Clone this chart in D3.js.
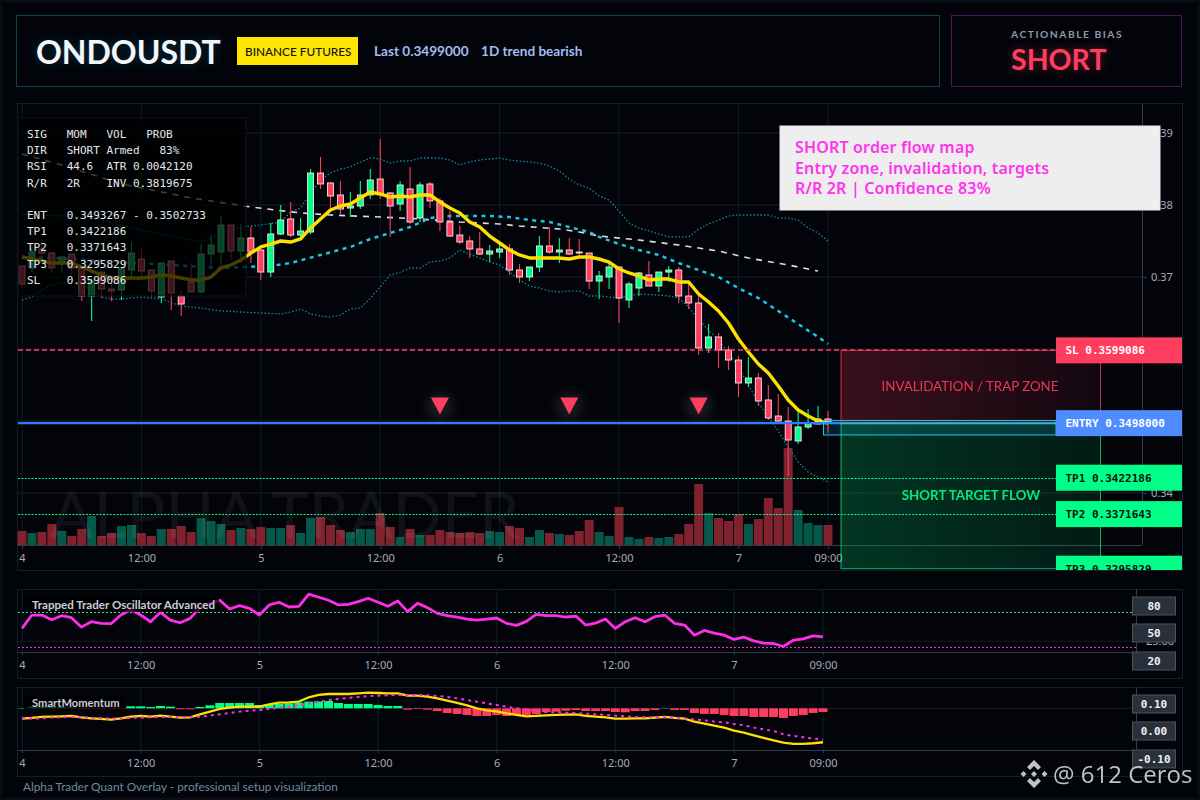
<!DOCTYPE html>
<html><head><meta charset="utf-8">
<style>html,body{margin:0;padding:0;background:#000;overflow:hidden}svg{display:block}</style>
<script src="https://cdn.jsdelivr.net/npm/d3@7/dist/d3.min.js"></script></head>
<body><svg id="c" width="1200" height="800"></svg>
<script>
// ---------- data ----------
const symbol="ONDOUSDT", exchange="BINANCE FUTURES", lastText="Last 0.3499000", trendText="1D trend bearish";
const hours=d3.range(82);
const open=[.37153,.37125,.37389,.37333,.37194,.37319,.37125,.36736,.37069,.36833,.36819,.37097,.3725,.37097,.36722,.37222,.36736,.36931,.36792,.37319,.37347,.37722,.37361,.37542,.37375,.37069,.37597,.37806,.37583,.37625,.38444,.38306,.38139,.37958,.37986,.38139,.38361,.38167,.38014,.38222,.37819,.38292,.38056,.37764,.37583,.375,.37389,.37319,.37347,.37389,.37097,.37,.37139,.37431,.37347,.37375,.37347,.37333,.36944,.37,.37139,.36681,.36847,.37028,.36875,.37069,.37097,.36736,.36639,.36014,.36167,.35986,.35847,.35528,.35597,.35292,.35069,.35,.34722,.34917,.34958,.35028];
const high=[.37153,.37403,.37528,.37347,.37278,.37319,.37139,.36986,.37069,.36986,.37125,.37486,.37389,.37097,.37194,.37222,.36819,.37194,.37458,.37583,.37847,.37722,.37736,.37694,.37375,.3775,.38,.38042,.37819,.385,.38667,.38319,.38333,.38181,.38333,.385,.38917,.38181,.38333,.38528,.38319,.38319,.38097,.37917,.37708,.37569,.37625,.37444,.37472,.37458,.37181,.37139,.37569,.37694,.37542,.37542,.37528,.37333,.37083,.37194,.37139,.36931,.37069,.37222,.37069,.37153,.37139,.36917,.36764,.36347,.36222,.36042,.35903,.35889,.35667,.355,.35375,.35194,.35139,.35167,.35208,.35139];
const low=[.36847,.37069,.37264,.37056,.37056,.37014,.36667,.36389,.36708,.36667,.36681,.37014,.36958,.36722,.36639,.36542,.36458,.36792,.36778,.37139,.37139,.37236,.37194,.37194,.36958,.37,.37583,.37556,.37556,.37597,.38222,.37931,.37875,.37833,.37944,.38083,.38083,.37556,.37917,.37736,.37764,.37958,.37639,.37556,.37458,.37264,.37306,.37208,.37264,.37028,.36917,.36944,.37069,.37319,.37194,.37306,.37292,.36833,.36694,.36833,.36361,.36569,.36736,.36875,.36792,.36931,.36639,.36556,.35917,.35944,.35736,.35708,.35333,.35472,.35208,.35014,.34958,.34236,.34681,.34889,.34958,.34833];
const close=[.36903,.37347,.37333,.37125,.37278,.37125,.36736,.36958,.36833,.36806,.37125,.37333,.37083,.36806,.37194,.36778,.36625,.36792,.37319,.37444,.37722,.37361,.37542,.37347,.37069,.37597,.37792,.37583,.37639,.38444,.38292,.38125,.37944,.37986,.38139,.38347,.38153,.37986,.38278,.37764,.38278,.38056,.37764,.37569,.37486,.37389,.37319,.37361,.37389,.37097,.37,.37139,.37431,.37347,.37375,.37319,.37333,.36944,.37014,.37139,.36708,.36903,.37056,.36875,.37069,.37097,.36736,.36639,.36014,.36167,.35986,.35847,.35528,.35597,.35278,.35042,.35,.34736,.34917,.34958,.35028,.34986];
const volume=[14,12,13,21,14,9,16,29,9,12,19,20,12,9,16,16,19,13,27,24,21,15,17,16,18,17,17,20,12,27,28,20,15,13,16,16,32,18,8,16,10,10,15,13,12,13,12,14,13,19,17,8,15,12,11,10,14,25,13,9,38,8,6,8,7,8,11,21,61,32,27,24,31,21,26,47,37,97,35,22,20,20];
const ema=[.37278,.3725,.37222,.37194,.37194,.37194,.37139,.37083,.37028,.36986,.36986,.36986,.36986,.37,.37028,.37014,.36986,.36958,.36958,.37,.37125,.37167,.37236,.37333,.37417,.37458,.375,.37486,.37528,.37681,.37806,.37931,.37986,.38014,.38097,.38181,.38153,.38111,.38125,.38111,.38139,.38139,.38042,.37958,.37889,.37764,.37694,.37569,.37472,.37375,.37306,.37264,.37264,.37264,.37264,.3725,.37278,.37278,.3725,.37208,.37111,.37056,.37014,.36958,.36972,.36972,.36931,.36931,.36764,.36653,.36528,.36361,.36139,.35958,.35792,.35667,.35486,.35292,.35153,.35069,.35,.34972];
const midHours=[0,5,10,15,20,25,27,30,33,35,37,39,41,43,45,47,49,51,53,55,57,58,60,62,64,66,68,70,72,74,76,78,80,81];
const midValues=[.37278,.3725,.37208,.37167,.37125,.37153,.37194,.37306,.37417,.37528,.37611,.37694,.37819,.37847,.37847,.37847,.37833,.37792,.37764,.37694,.37625,.37556,.37458,.37375,.37306,.37194,.37097,.37,.36847,.36708,.36528,.36347,.36167,.36069];
const slowHours=[0,4,10,17,23,28,31,36,40,44,48,50,54,56,58,62,66,70,73,77,80];
const slowValues=[.38708,.38556,.38292,.38097,.37972,.37889,.37861,.37833,.37806,.37764,.37736,.37708,.37667,.37625,.37569,.37514,.37444,.37361,.37264,.37167,.37083];
const upHours=[0,2,4,6,8,10,12,14,16,18,20,22,24,26,27,28,29,30,31,32,33,34,35,36,37,38,39,40,41,42,43,44,45,46,47,48,49,50,51,52,53,54,55,56,57,58,59,60,61,62,63,64,65,66,67,68,69,70,71,72,73,74,75,76,77,78,79,80,81];
const upValues=[.37875,.37861,.37847,.37833,.37792,.37722,.37653,.37597,.37542,.37486,.37611,.37694,.37722,.37764,.37903,.37958,.38167,.38347,.38444,.385,.38528,.38597,.38653,.38639,.38583,.38611,.38611,.38653,.38653,.38653,.38625,.38556,.38597,.38625,.38639,.38653,.38625,.38611,.38597,.38583,.38542,.38472,.38361,.38278,.38236,.38125,.38069,.37917,.3775,.37681,.37639,.37597,.37556,.37556,.37556,.37667,.37736,.37792,.37847,.37861,.37861,.37861,.37861,.37819,.37819,.37792,.37681,.37611,.375];
const lowHours=[0,1,2,3,4,5,6,7,8,9,10,12,14,16,18,20,22,24,26,27,28,29,30,31,32,33,34,35,36,37,38,39,40,41,42,43,44,45,46,47,48,49,50,51,52,53,54,55,56,57,58,60,62,64,65,66,67,68,70,72,74,76,77,78,79,81];
const lowValues=[.36681,.36722,.36819,.36889,.36917,.36917,.36889,.36806,.36722,.36694,.36694,.36722,.36694,.36597,.36569,.36528,.36514,.365,.36486,.36514,.36556,.36486,.36458,.36444,.36472,.36556,.36569,.36708,.36861,.37028,.37069,.37125,.37125,.37208,.37222,.37264,.37375,.37319,.37264,.37208,.37167,.37069,.36958,.36875,.36847,.36806,.36792,.36806,.36806,.36736,.36736,.36708,.36764,.3675,.36736,.36708,.36583,.36403,.36125,.3575,.3525,.34861,.34639,.34431,.34292,.34153];
const priceTicks=[.39,.38,.37,.36,.35,.34];
const priceLabels=["0.39","0.38","0.37","","","0.34"];
const timeHours=[0,12,24,36,48,60,72,81];
const timeLabels=["4","12:00","5","12:00","6","12:00","7","09:00"];
const slPrice=.3599086, entryPrice=.3498, tp1=.3422186, tp2=.3371643, tp3=.3295829, entryBoxLow=.34806;
const signalHours=[42,55,68];
const tableRows=["SIG   MOM   VOL   PROB","DIR   SHORT Armed   83%","RSI   44.6  ATR 0.0042120","R/R   2R    INV 0.3819675","","ENT   0.3493267 - 0.3502733","TP1   0.3422186","TP2   0.3371643","TP3   0.3295829","SL    0.3599086"];
const noteRows=["SHORT order flow map","Entry zone, invalidation, targets","R/R 2R | Confidence 83%"];
const osc=[46.8,69.8,69.8,61.8,68.7,65.2,49.1,58.3,55.5,54.9,69.8,79,69.8,58.3,74.4,61.2,56.6,64.1,82.5,89.9,95.1,80.2,85.9,81.3,69.8,87.1,91.7,83.6,84.8,105.5,100.3,95.1,87.1,88.2,92.8,98.6,91.7,84.8,94,75.6,89.9,82.5,72.7,68.7,66.4,62.9,61.2,62.9,64.7,55.5,52,58.9,71,68.7,68.7,66.4,68.1,52.6,56,62.9,46.8,58.3,65.2,58.3,67,69.8,55.5,52.6,35.3,43.4,38.8,35.3,27.9,31.9,25.6,21.6,21,15.8,26.7,29,34.2,32.5];
const oscLevels=[75,15], oscGrid=25, oscGridLabel="25.00", oscBoxes=["80","50","20"];
const macd=[-.0031,-.0029,-.0026,-.0025,-.0024,-.0023,-.0027,-.003,-.0032,-.0034,-.003,-.0025,-.0023,-.0025,-.0022,-.0025,-.0028,-.0027,-.0018,-.001,-.0002,.0002,.0005,.0005,.0005,.0012,.0017,.0018,.002,.0033,.004,.0043,.0043,.0043,.0045,.0047,.0046,.0045,.0045,.0038,.0038,.0035,.003,.0023,.0016,.0009,0,-.0006,-.0009,-.0015,-.002,-.0024,-.0023,-.0021,-.002,-.0019,-.0018,-.0023,-.0025,-.0027,-.0031,-.0031,-.003,-.003,-.0028,-.0026,-.0029,-.0031,-.004,-.0046,-.0052,-.0058,-.0067,-.0073,-.0081,-.0089,-.0096,-.0103,-.0107,-.0107,-.0105,-.0102];
const signal=[-.0032,-.0031,-.003,-.0028,-.0027,-.0026,-.0027,-.0028,-.003,-.0031,-.0031,-.0029,-.0028,-.0027,-.0026,-.0026,-.0026,-.0026,-.0025,-.0022,-.0018,-.0014,-.001,-.0007,-.0005,-.0002,.0002,.0005,.0008,.0014,.002,.0025,.0028,.0031,.0034,.0037,.0038,.0039,.004,.004,.004,.0039,.0037,.0034,.003,.0025,.002,.0015,.001,.0005,0,-.0005,-.0008,-.0011,-.0012,-.0013,-.0014,-.0016,-.0018,-.002,-.0022,-.0024,-.0026,-.0027,-.0027,-.0027,-.0028,-.003,-.0034,-.0036,-.004,-.0042,-.0047,-.0051,-.0058,-.0063,-.0068,-.0078,-.0083,-.0087,-.0091,-.0094];
const hist=[.0001,.0005,.0005,.0004,.0004,.0003,-.0003,-.0002,-.0003,-.0003,-.0002,.0006,.0006,.0004,.0007,.0005,-.0003,-.0003,.0004,.0009,.0016,.0016,.0016,.0016,.001,.0012,.0013,.0015,.0017,.002,.0021,.0022,.0016,.0013,.0013,.0013,.001,.0007,.0007,-.0004,-.0002,-.0004,-.0008,-.0014,-.0017,-.002,-.0023,-.0023,-.002,-.0023,-.002,-.002,-.0018,-.0011,-.001,-.0007,-.0005,-.0008,-.0008,-.0008,-.0011,-.0012,-.0008,-.0008,-.0005,.0001,-.0005,-.0005,-.0014,-.0017,-.0017,-.002,-.0023,-.0023,-.0026,-.0026,-.0026,-.0029,-.0023,-.002,-.0014,-.0011];
const macdLevels=[0], macdBoxes=["0.10","0.00","-0.10"];

// ---------- scales ----------
const RED="#ff3d5f", GREEN="#00ff88", UI="Lato,sans-serif", TICK="'Noto Sans',sans-serif", MONO="'DejaVu Sans Mono',monospace";
const svg=d3.select("#c");
const x=d3.scaleLinear().domain([0,81]).range([22,828]);
const xs=d3.scaleLinear().domain([0,81]).range([22,823]);
const y=d3.scaleLinear().domain([.39,.34]).range([133,493]);
const yL=p=>y(p)+.7;
const yVol=d3.scaleLinear().domain([0,100]).range([545,445]);
const yOsc=d3.scaleLinear().domain([75,15]).range([612,647]);
const yMac=d3.scaleLinear().domain([0,-.01]).range([708.3,741.6]);
const defs=svg.append("defs");
const clip=(id,a,b,c,d)=>defs.append("clipPath").attr("id",id).append("rect").attr("x",a).attr("y",b).attr("width",c-a).attr("height",d-b);
clip("cm",18,104,1182,570);clip("cp",18,104,1142,545);clip("co",18,590,1136,652);clip("cs",18,688,1136,750);
const blur=(id,s)=>defs.append("filter").attr("id",id).attr("x","-60%").attr("y","-60%").attr("width","220%").attr("height","220%").append("feGaussianBlur").attr("stdDeviation",s);
blur("b6",6);blur("b4",5);
const grad=(id,c,a,b)=>{const g=defs.append("linearGradient").attr("id",id);g.append("stop").attr("offset",0).attr("stop-color",c).attr("stop-opacity",a);g.append("stop").attr("offset",1).attr("stop-color",c).attr("stop-opacity",b);};
grad("gr",RED,.22,.07);grad("gg",GREEN,.2,.09);

const R=(g,a,b,c,d)=>g.append("rect").attr("x",a).attr("y",b).attr("width",c-a).attr("height",d-b);
const T=(g,t,a,b,s,f,w,fam)=>g.append("text").text(t).attr("x",a).attr("y",b).attr("font-size",s).attr("fill",f).attr("font-weight",w||400).attr("font-family",fam||UI);

// ---------- page ----------
R(svg,0,0,1200,800).attr("fill","#010206");
R(svg,1,1,1199,799).attr("fill","#02040a").attr("stroke","#0f1a25");
// header
R(svg,16.5,15.5,939.5,86.5).attr("fill","#02040a").attr("stroke","#0b4554");
R(svg,951.5,15.5,1181.5,86.5).attr("fill","#02040a").attr("stroke","#551358");
T(svg,symbol,36,63.5,32,"#0e5d7a",700).attr("filter","url(#b4)").attr("opacity",.5);
T(svg,symbol,36,63.5,32,"#f2f6fb",700);
R(svg,237,37,358,65).attr("fill","#ffe600");
T(svg,exchange,245,55.5,11.8,"#111",500);
T(svg,lastText,374,56,13.6,"#a0bdf0",700);
T(svg,trendText,481,56,13.6,"#a0bdf0",700);
T(svg,"ACTIONABLE BIAS",1011,38,10.3,"#8f9aa8",700).attr("letter-spacing",1.5);
T(svg,"SHORT",1011,69.5,28.5,RED,700).attr("filter","url(#b4)").attr("opacity",.4);
T(svg,"SHORT",1011,69.5,28.5,RED,700);

// ---------- main panel ----------
R(svg,17.5,103.5,1182.5,570.5).attr("fill","#02040a").attr("stroke","#141e2b");
const gm=svg.append("g");
gm.selectAll(".gx").data(timeHours).join("line").attr("x1",d=>x(d)).attr("x2",d=>x(d)).attr("y1",104).attr("y2",545).attr("stroke","#0c1c27");
gm.selectAll(".gy").data(priceTicks).join("line").attr("x1",18).attr("x2",1142).attr("y1",d=>y(d)).attr("y2",d=>y(d)).attr("stroke","#171d26");
// volume
const gv=svg.append("g");
gv.selectAll("rect").data(hours).join("rect").attr("x",d=>x(d)-4.5).attr("width",9).attr("y",d=>yVol(volume[d])).attr("height",d=>545-yVol(volume[d]))
  .attr("fill",d=>close[d]>=open[d]?"#06594a":"#7f222e");
T(svg,"ALPHA TRADER",50,538,64,"#ffffff",400).attr("opacity",.055).attr("letter-spacing",.3);
// axes
const ax=svg.append("g").attr("transform","translate(0,545)").call(d3.axisBottom(x).tickValues(timeHours).tickFormat((d,i)=>timeLabels[i]).tickSize(4).tickPadding(5));
ax.select(".domain").attr("d","M18,0.5H1142").attr("stroke","#323b49");ax.selectAll("line").attr("stroke","#323b49");
ax.selectAll("text").attr("fill","#a8adb5").attr("font-size",11).attr("font-family",TICK);
const ay=svg.append("g").attr("transform","translate(1142,0)").call(d3.axisRight(y).tickValues(priceTicks).tickFormat((d,i)=>priceLabels[i]).tickSize(5).tickPadding(4));
ay.select(".domain").attr("d","M0.5,104V545").attr("stroke","#323b49");ay.selectAll("line").attr("stroke","#323b49");
ay.selectAll("text").attr("fill","#a8adb5").attr("font-size",11).attr("font-family",TICK);
// candles & overlays
const pl=svg.append("g").attr("clip-path","url(#cp)");
const line=(xk,yk,h,v)=>d3.line().x((d,i)=>xk(h[i])).y((d,i)=>yk(v[i])).curve(d3.curveLinear)(v);
pl.append("path").attr("d",line(x,y,upHours,upValues)).attr("fill","none").attr("stroke","#0f8aa2").attr("stroke-width",1.3).attr("stroke-dasharray","1.5 2");
pl.append("path").attr("d",line(x,y,lowHours,lowValues)).attr("fill","none").attr("stroke","#0f8aa2").attr("stroke-width",1.3).attr("stroke-dasharray","1.5 2");
pl.append("path").attr("d",line(x,y,slowHours,slowValues)).attr("fill","none").attr("stroke","#dcdee1").attr("stroke-width",1.6).attr("stroke-dasharray","6 6");
pl.append("path").attr("d",line(x,y,midHours,midValues)).attr("fill","none").attr("stroke","#18c8ec").attr("stroke-width",2.5).attr("stroke-dasharray","4 4.5");
const col=d=>close[d]>=open[d]?GREEN:RED;
pl.selectAll(".w").data(hours).join("line").attr("x1",d=>x(d)).attr("x2",d=>x(d)).attr("y1",d=>y(high[d])).attr("y2",d=>y(low[d])).attr("stroke",col).attr("stroke-width",1.1);
pl.selectAll(".b").data(hours).join("rect").attr("x",d=>x(d)-3).attr("width",6).attr("y",d=>y(Math.max(open[d],close[d]))).attr("height",d=>Math.max(.8,Math.abs(y(open[d])-y(close[d])))).attr("fill",col).attr("stroke","#f4e9ea").attr("stroke-width",.9);
// levels
const lv=svg.append("g");
lv.append("line").attr("x1",18).attr("x2",1056).attr("y1",Math.round(yL(slPrice))).attr("y2",Math.round(yL(slPrice))).attr("stroke",RED).attr("stroke-width",1.7).attr("stroke-dasharray","5 3");
lv.append("line").attr("x1",18).attr("x2",1056).attr("y1",yL(entryPrice)).attr("y2",yL(entryPrice)).attr("stroke","#2f7bff").attr("stroke-width",2.4);
[tp1,tp2].forEach(p=>{const c=Math.round(yL(p))+.5;lv.append("line").attr("x1",18).attr("x2",1056).attr("y1",c).attr("y2",c).attr("stroke",GREEN).attr("stroke-width",1.2).attr("stroke-dasharray","2 1.4");});
pl.append("path").attr("d",line(x,y,hours,ema)).attr("fill","none").attr("stroke","#ffe000").attr("stroke-width",3.4).attr("stroke-linejoin","round");
// zones
const z=svg.append("g").attr("clip-path","url(#cm)");
R(z,841,yL(slPrice),1100.5,yL(entryPrice)).attr("fill","url(#gr)").attr("stroke",RED).attr("stroke-opacity",.75);
R(z,841,yL(entryPrice)+.5,1100.5,yL(tp3)).attr("fill","url(#gg)").attr("stroke",GREEN).attr("stroke-opacity",.7);
R(z,823.5,y(entryPrice)-2,1056,y(entryBoxLow)).attr("fill","#14c8ea").attr("fill-opacity",.14).attr("stroke","#18c8ec").attr("stroke-width",1);
T(z,"INVALIDATION / TRAP ZONE",970,391,13.3,RED,400).attr("text-anchor","middle").attr("opacity",.9);
T(z,"SHORT TARGET FLOW",971,500,13.3,GREEN,700).attr("text-anchor","middle").attr("opacity",.9);
// signals
const sig=svg.append("g");
sig.selectAll(".gl").data(signalHours).join("circle").attr("cx",d=>x(d)).attr("cy",406).attr("r",13).attr("fill","#ffffff").attr("opacity",.1).attr("filter","url(#b6)");
sig.selectAll(".tr").data(signalHours).join("path").attr("transform",d=>`translate(${x(d)},406)`).attr("d","M-9,-8.5H9L0,8.5Z").attr("fill",RED);
// table overlay
R(svg,18,118,246,296).attr("fill","#000").attr("fill-opacity",.72).attr("stroke","#0e131a");
const tb=[134,150,166,183,199,215,231,247,264,280];
tableRows.forEach((r,i)=>{T(svg,r,27,tb[i]+4,11,"#e4e7ec",400,MONO).attr("xml:space","preserve").style("white-space","pre");});
// note
R(svg,780,126,1160,210).attr("fill","#f3f3f4").attr("fill-opacity",.98).attr("stroke","#e6e6e8");
noteRows.forEach((r,i)=>T(svg,r,795,[152.5,173.5,194][i],16,"#ff33ee",600,TICK).attr("letter-spacing",.17));
// right labels
const labels=[["SL 0.3599086",slPrice,RED,"#fff"],["ENTRY 0.3498000",entryPrice,"#4f8dff","#fff"],["TP1 0.3422186",tp1,GREEN,"#07110c"],["TP2 0.3371643",tp2,GREEN,"#07110c"],["TP3 0.3295829",tp3,GREEN,"#07110c"]];
const lb=svg.append("g").attr("clip-path","url(#cm)");
labels.forEach(l=>{const c=yL(l[1]);R(lb,1056,c-13,1182,c+13).attr("fill",l[2]);T(lb,l[0],1065.5,c+4,11,l[3],700,MONO);});

// ---------- sub panels ----------
function sub(top,bot,axisY,grids,clipId,boxes,boxYs){
  R(svg,17.5,top+.5,1182.5,bot+.5).attr("fill","#02040a").attr("stroke","#141e2b");
  const g=svg.append("g");
  g.selectAll(".vx").data(timeHours).join("line").attr("x1",d=>xs(d)).attr("x2",d=>xs(d)).attr("y1",top).attr("y2",axisY).attr("stroke","#0c1c27");
  grids.forEach(c=>g.append("line").attr("x1",18).attr("x2",1136).attr("y1",c).attr("y2",c).attr("stroke","#171d26"));
  const a=svg.append("g").attr("transform",`translate(0,${axisY})`).call(d3.axisBottom(xs).tickValues(timeHours).tickFormat((d,i)=>timeLabels[i]).tickSize(3).tickPadding(6));
  a.select(".domain").attr("d","M18,0.5H1136").attr("stroke","#323b49");a.selectAll("line").attr("stroke","#323b49");
  a.selectAll("text").attr("fill","#a8adb5").attr("font-size",11).attr("font-family",TICK);
  svg.append("line").attr("x1",1136.5).attr("x2",1136.5).attr("y1",top).attr("y2",axisY).attr("stroke","#323b49");
  return ()=>boxes.forEach((t,i)=>{R(svg,1132.5,boxYs[i]-9,1175.5,boxYs[i]+9).attr("fill","#2a303a").attr("stroke","#4a5362");
    T(svg,t,1154,boxYs[i]+4,11,"#eef1f5",700,MONO).attr("text-anchor","middle");});
}
const oscBoxFn=sub(589,678,652,[yOsc(oscGrid)],"co",oscBoxes,[606,633,661]);
T(svg,oscGridLabel,1146,yOsc(oscGrid)+4,11,"#a8adb5",400,TICK);
const go=svg.append("g").attr("clip-path","url(#co)");
go.append("line").attr("x1",18).attr("x2",1136).attr("y1",yOsc(oscLevels[0])+.5).attr("y2",yOsc(oscLevels[0])+.5).attr("stroke","#2fe39a").attr("stroke-dasharray","2 2");
go.append("line").attr("x1",18).attr("x2",1136).attr("y1",yOsc(oscLevels[1])+.5).attr("y2",yOsc(oscLevels[1])+.5).attr("stroke","#ff22ee").attr("stroke-dasharray","2 2");
go.append("path").attr("d",line(xs,yOsc,hours,osc)).attr("fill","none").attr("stroke","#ff2ee6").attr("stroke-width",2.8).attr("stroke-linejoin","round");
R(svg,24,597,219,612).attr("fill","#000").attr("fill-opacity",.72);
T(svg,"Trapped Trader Oscillator Advanced",32,609,11.6,"#c9ced6",700);
oscBoxFn();

const macBoxFn=sub(687,776,750,macdLevels.map(v=>yMac(v)),"cs",macdBoxes,[704,731,759]);
const gs=svg.append("g").attr("clip-path","url(#cs)");
gs.selectAll("rect").data(hours).join("rect").attr("x",d=>xs(d)-4.5).attr("width",9).attr("y",d=>hist[d]>=0?yMac(hist[d]):yMac(0)).attr("height",d=>Math.abs(yMac(hist[d])-yMac(0))).attr("fill",d=>hist[d]>=0?GREEN:RED);
gs.append("path").attr("d",line(xs,yMac,hours,macd)).attr("fill","none").attr("stroke","#ffe000").attr("stroke-width",2.3);
gs.append("path").attr("d",line(xs,yMac,hours,signal)).attr("fill","none").attr("stroke","#ff2ee6").attr("stroke-width",2).attr("stroke-dasharray","3 4");
R(svg,24,695,125,710).attr("fill","#000").attr("fill-opacity",.72);
T(svg,"SmartMomentum",32,707,11.2,"#c9ced6",700);
macBoxFn();

T(svg,"Alpha Trader Quant Overlay - professional setup visualization",23,791,11.8,"#6f8b9c",400);
// watermark
const wm=svg.append("g").attr("fill","#d5d8dc").attr("opacity",.9).attr("transform","translate(1034,774)");
wm.append("path").attr("d","M0,-14L7,-7L4,-4L0,-8L-4,-4L-7,-7Z M0,14L7,7L4,4L0,8L-4,4L-7,7Z M-10.5,-3L-7.5,0L-10.5,3L-13.5,0Z M10.5,-3L13.5,0L10.5,3L7.5,0Z M0,-3L3,0L0,3L-3,0Z");
T(svg,"@ 612 Ceros",1053,783,24,"#d5d8dc",400,"'Open Sans',sans-serif").attr("opacity",.9);
</script></body></html>
